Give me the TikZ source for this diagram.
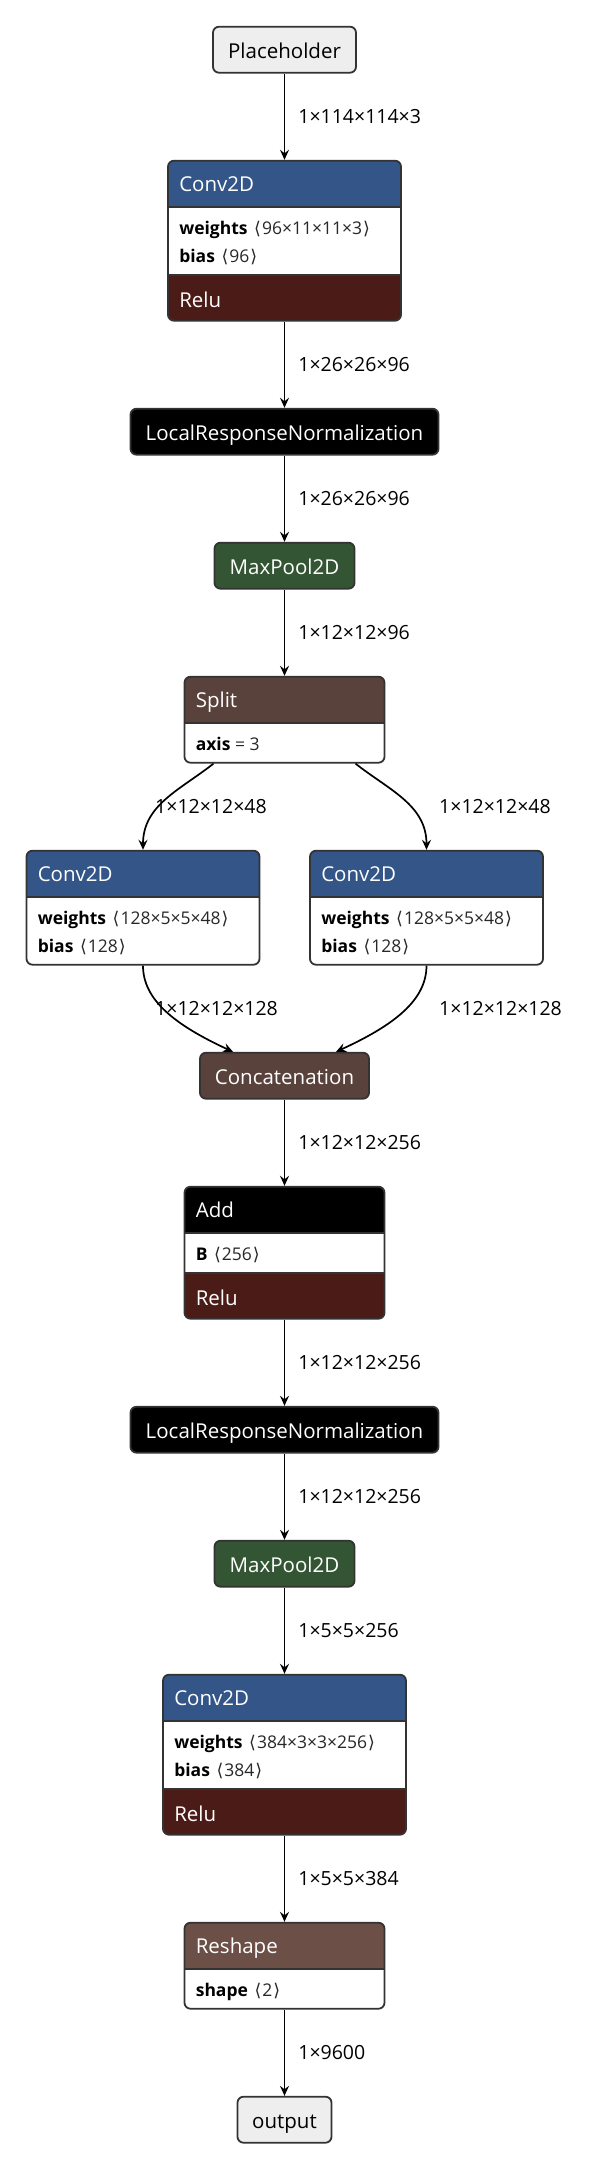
\documentclass[tikz,border=0pt]{standalone}
\usepackage{fontspec}
\setmainfont{Open Sans}
\newfontfamily\brfont{DejaVu Sans}
\usetikzlibrary{arrows.meta}

\definecolor{layerblue}{RGB}{51,85,136}
\definecolor{actred}{RGB}{75,28,23}
\definecolor{poolgreen}{RGB}{51,85,51}
\definecolor{tensorbrown}{RGB}{89,66,59}
\definecolor{shapebrown}{RGB}{108,79,71}
\definecolor{iofill}{RGB}{238,238,238}
\definecolor{bordergray}{RGB}{51,51,51}
\definecolor{valgray}{RGB}{40,40,40}

\newcommand{\nodesize}{\fontsize{20.5}{24}\selectfont}
\newcommand{\attrsize}{\fontsize{17.5}{20}\selectfont}
\newcommand{\edgesize}{\fontsize{19.5}{22}\selectfont}
\newcommand{\dims}[1]{\hspace{2pt}\textcolor{valgray}{{\brfont ⟨}\hspace{1pt}#1\hspace{1pt}{\brfont ⟩}}}

% bands inside the stacked boxes
\newcommand{\headband}[1]{%
  \fill[#1, sharp corners] (path picture bounding box.north west) rectangle ([yshift=-46pt]path picture bounding box.north east);
  \draw[bordergray, line width=1.8pt, sharp corners] ([yshift=-46pt]path picture bounding box.north west) -- ([yshift=-46pt]path picture bounding box.north east);}
\newcommand{\actband}{%
  \fill[actred, sharp corners] ([yshift=46pt]path picture bounding box.south west) rectangle (path picture bounding box.south east);
  \draw[bordergray, line width=1.8pt, sharp corners] ([yshift=46pt]path picture bounding box.south west) -- ([yshift=46pt]path picture bounding box.south east);}

\tikzset{
  box/.style={draw=bordergray, line width=1.8pt, rounded corners=6pt, inner sep=0pt, minimum height=46pt, text height=19pt, text depth=2pt},
  io/.style={box, fill=iofill, font=\nodesize, minimum width=#1},
  op/.style n args={2}{box, fill=#1, text=white, font=\nodesize, minimum width=#2},
  stack/.style n args={3}{box, fill=white, minimum width=#1, minimum height=#2, path picture={\headband{#3}}},
  stackact/.style n args={3}{box, fill=white, minimum width=#1, minimum height=#2, path picture={\headband{#3}\actband}},
  title/.style={anchor=base west, inner sep=0pt, text=white, font=\nodesize},
  attr/.style={anchor=base west, inner sep=0pt, font=\attrsize},
  lbl/.style={anchor=west, inner sep=0pt, font=\edgesize},
  edge/.style={draw=black, line width=1.7pt, -{Stealth[length=10pt, width=9pt, inset=3.5pt]}}
}

\begin{document}
\begin{tikzpicture}[x=1pt, y=-1pt]
  \useasboundingbox (0,0) rectangle (594,2170);

  % main column
  \node[io=143pt] (ph) at (284.5, 49.7) {Placeholder};

  \node[stackact={233pt}{160pt}{layerblue}] (conv1) at (284.5, 240.7) {};
  \node[title] (conv1-t) at ([xshift=12pt, yshift=-32pt]conv1.north west) {Conv2D};
  \node[attr] (conv1-w) at ([xshift=12pt, yshift=-74.5pt]conv1.north west) {\textbf{weights} \dims{96×11×11×3}};
  \node[attr] (conv1-b) at ([xshift=12pt, yshift=-102.5pt]conv1.north west) {\textbf{bias} \dims{96}};
  \node[title] (conv1-a) at ([xshift=12pt, yshift=14.5pt]conv1.south west) {Relu};

  \node[op={black}{308pt}] (lrn1) at (284.5, 431.7) {LocalResponseNormalization};
  \node[op={poolgreen}{140pt}] (pool1) at (284.5, 565.7) {MaxPool2D};

  \node[stack={200pt}{86pt}{tensorbrown}] (split) at (284.5, 719.7) {};
  \node[title] (split-t) at ([xshift=12pt, yshift=-32pt]split.north west) {Split};
  \node[attr] (split-x) at ([xshift=12pt, yshift=-74.5pt]split.north west) {\textbf{axis} \textcolor{valgray}{= 3}};

  % two branches
  \foreach \side/\cx in {l/143, r/426.5} {
    \node[stack={233pt}{114pt}{layerblue}] (conv\side) at (\cx, 907.7) {};
    \node[title] (conv\side-t) at ([xshift=12pt, yshift=-32pt]conv\side.north west) {Conv2D};
    \node[attr] (conv\side-w) at ([xshift=12pt, yshift=-74.5pt]conv\side.north west) {\textbf{weights} \dims{128×5×5×48}};
    \node[attr] (conv\side-b) at ([xshift=12pt, yshift=-102.5pt]conv\side.north west) {\textbf{bias} \dims{128}};
  }

  \node[op={tensorbrown}{169pt}] (concat) at (284.5, 1075.7) {Concatenation};

  \node[stackact={200pt}{132pt}{black}] (add) at (284.5, 1252.7) {};
  \node[title] (add-t) at ([xshift=12pt, yshift=-32pt]add.north west) {Add};
  \node[attr] (add-b) at ([xshift=12pt, yshift=-74.5pt]add.north west) {\textbf{B} \dims{256}};
  \node[title] (add-a) at ([xshift=12pt, yshift=14.5pt]add.south west) {Relu};

  \node[op={black}{308pt}] (lrn2) at (284.5, 1429.7) {LocalResponseNormalization};
  \node[op={poolgreen}{140pt}] (pool2) at (284.5, 1563.7) {MaxPool2D};

  \node[stackact={243pt}{160pt}{layerblue}] (conv3) at (284.5, 1754.7) {};
  \node[title] (conv3-t) at ([xshift=12pt, yshift=-32pt]conv3.north west) {Conv2D};
  \node[attr] (conv3-w) at ([xshift=12pt, yshift=-74.5pt]conv3.north west) {\textbf{weights} \dims{384×3×3×256}};
  \node[attr] (conv3-b) at ([xshift=12pt, yshift=-102.5pt]conv3.north west) {\textbf{bias} \dims{384}};
  \node[title] (conv3-a) at ([xshift=12pt, yshift=14.5pt]conv3.south west) {Relu};

  \node[stack={200pt}{86pt}{shapebrown}] (reshape) at (284.5, 1965.7) {};
  \node[title] (reshape-t) at ([xshift=12pt, yshift=-32pt]reshape.north west) {Reshape};
  \node[attr] (reshape-s) at ([xshift=12pt, yshift=-74.5pt]reshape.north west) {\textbf{shape} \dims{2}};

  \node[io=94pt] (out) at (284.5, 2119.7) {output};

  % straight edges
  \draw[edge] (ph) -- node[lbl, xshift=13pt] (e1) {1×114×114×3} (conv1);
  \draw[edge] (conv1) -- node[lbl, xshift=13pt] (e2) {1×26×26×96} (lrn1);
  \draw[edge] (lrn1) -- node[lbl, xshift=13pt] (e3) {1×26×26×96} (pool1);
  \draw[edge] (pool1) -- node[lbl, xshift=13pt] (e4) {1×12×12×96} (split);
  \draw[edge] (concat) -- node[lbl, xshift=13pt] (e9) {1×12×12×256} (add);
  \draw[edge] (add) -- node[lbl, xshift=13pt] (e10) {1×12×12×256} (lrn2);
  \draw[edge] (lrn2) -- node[lbl, xshift=13pt] (e11) {1×12×12×256} (pool2);
  \draw[edge] (pool2) -- node[lbl, xshift=13pt] (e12) {1×5×5×256} (conv3);
  \draw[edge] (conv3) -- node[lbl, xshift=13pt] (e13) {1×5×5×384} (reshape);
  \draw[edge] (reshape) -- node[lbl, xshift=13pt] (e14) {1×9600} (out);

  % split and join
  \draw[edge] ([xshift=-71pt]split.south) .. controls (180,790) and (143,805) .. (convl.north);
  \draw[edge] ([xshift=71pt]split.south) .. controls (389,790) and (426.5,805) .. (convr.north);
  \draw[edge] (convl.south) .. controls (143,1000) and (175,1025) .. ([xshift=-51.5pt]concat.north);
  \draw[edge] (convr.south) .. controls (426.5,1000) and (394.5,1025) .. ([xshift=51.5pt]concat.north);
  \node[lbl] (e5) at (155, 807) {1×12×12×48};
  \node[lbl] (e6) at (439, 807) {1×12×12×48};
  \node[lbl] (e7) at (155, 1009) {1×12×12×128};
  \node[lbl] (e8) at (439, 1009) {1×12×12×128};
\end{tikzpicture}
\end{document}
